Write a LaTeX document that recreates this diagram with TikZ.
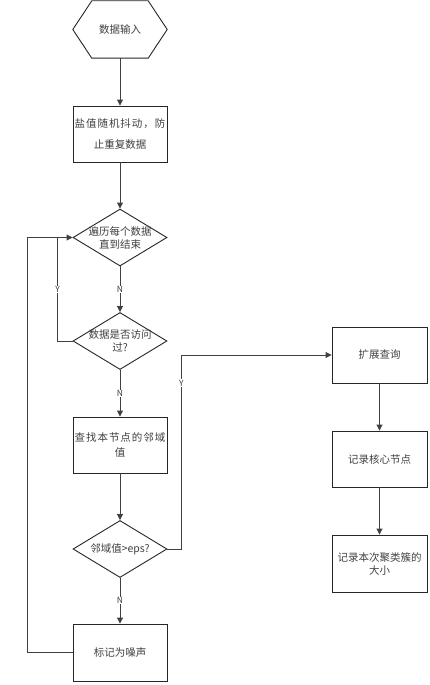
\documentclass[tikz,border=0pt]{standalone}
\usepackage{fontspec}
\newfontfamily\cjk{Noto Sans CJK SC}
\newfontfamily\cjkwide[LetterSpace=9]{Noto Sans CJK SC}
\usetikzlibrary{arrows.meta,shapes.geometric,calc}
\begin{document}
\begin{tikzpicture}[x=1pt,y=-1pt,
  txt/.style={font=\cjk\fontsize{10.5}{13}\selectfont, text=black!75, align=center},
  boxnode/.style={draw=black!85, line width=0.9pt, minimum width=94pt, minimum height=56pt, inner sep=0pt, txt},
  dianode/.style={draw=black!85, line width=0.9pt, diamond, minimum width=94pt, minimum height=57pt, inner sep=0pt},
  conn/.style={draw=black!75, line width=0.9pt},
  arr/.style={conn, -{Triangle[width=6pt,length=6pt]}},
  lab/.style={font=\cjk\fontsize{8.5}{9}\selectfont, text=black!75, fill=white, inner sep=0.6pt}
]
\useasboundingbox (0,0) rectangle (430,685);
\fill[white] (0,0) rectangle (430,685);

% start hexagon
\node[txt, minimum width=94pt, minimum height=57pt, inner sep=0pt] (in) at (120,29.5) {数据输入};
\draw[draw=black!85, line width=0.9pt] (in.west) -- ($(in.north west)+(19,0)$) -- ($(in.north east)+(-19,0)$) -- (in.east) -- ($(in.south east)+(-19,0)$) -- ($(in.south west)+(19,0)$) -- cycle;

\node[boxnode] (b1) at (120,134) {{\cjkwide 盐值随机抖动，防}\\[8pt]止重复数据};
\node[dianode, label={[txt]center:{遍历每个数据\\直到结束}}] (d1) at (120,237.5) {};
\node[dianode, label={[txt]center:{数据是否访问\\过?}}] (d2) at (120,341) {};
\node[boxnode] (b3) at (120,445) {{\cjkwide 查找本节点的邻域}\\[2pt]值};
\node[dianode, label={[txt]center:{邻域值>eps?}}] (d3) at (120,549) {};
\node[boxnode, minimum height=57pt] (b4) at (120,652.5) {标记为噪声};

\node[boxnode, minimum width=95pt] (ra) at (379.5,355) {扩展查询};
\node[boxnode, minimum width=95pt] (rb) at (379.5,459) {记录核心节点};
\node[boxnode, minimum width=95pt, minimum height=57pt] (rc) at (379.5,563.5) {记录本次聚类簇的\\大小};

\coordinate (j) at ($(d1.west)+(-15,0)$);

% connectors
\draw[arr] (in.south) -- (b1.north);
\draw[arr] (b1.south) -- (d1.north);
\draw[arr] (d1.south) -- node[lab]{N} (d2.north);
\draw[arr] (d2.west) -- ++(-15,0) |- node[lab, pos=0.25]{Y} (d1.west);
\draw[conn] (b4.west) -- ++(-45,0) |- (j);
\draw[arr] (d2.south) -- node[lab]{N} (b3.north);
\draw[arr] (b3.south) -- (d3.north);
\draw[arr] (d3.south) -- node[lab]{N} (b4.north);
\draw[arr] (d3.east) -- ++(14,0) |- node[lab, pos=0.428]{Y} (ra.west);
\draw[arr] (ra.south) -- (rb.north);
\draw[arr] (rb.south) -- (rc.north);
\end{tikzpicture}
\end{document}
